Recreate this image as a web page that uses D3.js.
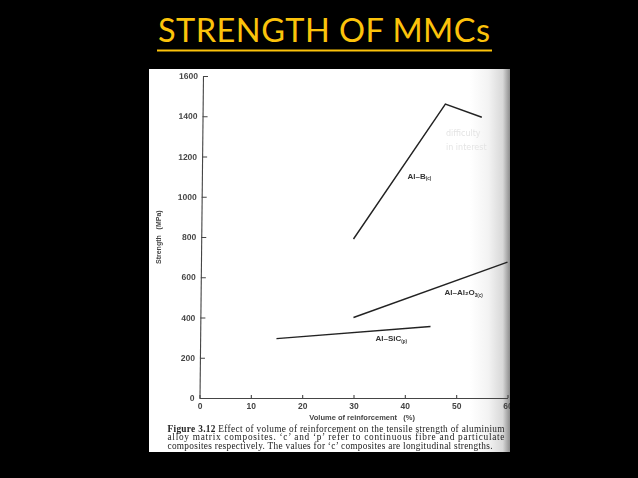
<!DOCTYPE html>
<html>
<head>
<meta charset="utf-8">
<script src="https://cdn.jsdelivr.net/npm/d3@7"></script>
<style>
html, body { margin: 0; padding: 0; background: #000; }
svg { display: block; }
</style>
</head>
<body>
<div id="chart"></div>
<script>
var titleText = "STRENGTH OF MMCs";
var xTicks = [0, 10, 20, 30, 40, 50, 60];
var yTicks = [0, 200, 400, 600, 800, 1000, 1200, 1400, 1600];
var xLabel = "Volume of reinforcement   (%)";
var yLabel = "Strength   (MPa)";

var alBVolume = [30, 47.9, 55];
var alBStrength = [790, 1460, 1395];
var alOxideVolume = [30, 60];
var alOxideStrength = [400, 675];
var siCVolume = [15, 45];
var siCStrength = [295, 355];

var captionLines = [
  "alloy matrix composites. ‘c’ and ‘p’ refer to continuous fibre and particulate",
  "composites respectively. The values for ‘c’ composites are longitudinal strengths."
];

var width = 638, height = 478;
var paper = {x: 149, y: 69, w: 361, h: 383};

var svg = d3.select("#chart").append("svg")
  .attr("width", width)
  .attr("height", height);

var defs = svg.append("defs");
var shade = defs.append("linearGradient").attr("id", "shade");
shade.append("stop").attr("offset", "0%").attr("stop-color", "#fff");
shade.append("stop").attr("offset", "89%").attr("stop-color", "#fff");
shade.append("stop").attr("offset", "94%").attr("stop-color", "#f3f3f3");
shade.append("stop").attr("offset", "98%").attr("stop-color", "#d8d8d8");
shade.append("stop").attr("offset", "100%").attr("stop-color", "#8c8c8c");
defs.append("clipPath").attr("id", "page").append("rect")
  .attr("x", paper.x).attr("y", paper.y).attr("width", paper.w).attr("height", paper.h);
defs.append("filter").attr("id", "soft").append("feGaussianBlur").attr("stdDeviation", 0.3);

// title
svg.append("rect").attr("width", width).attr("height", height).attr("fill", "#000");
svg.append("text")
  .attr("x", 158).attr("y", 41.5)
  .attr("textLength", 332)
  .attr("lengthAdjust", "spacing")
  .style("font-family", "Lato, 'Open Sans', sans-serif")
  .style("font-size", "32.5px")
  .attr("fill", "#fcc30b")
  .text(titleText);
svg.append("rect")
  .attr("x", 157).attr("y", 49.5).attr("width", 335).attr("height", 2)
  .attr("fill", "#fcc30b");

// scanned page
svg.append("rect")
  .attr("x", paper.x).attr("y", paper.y).attr("width", paper.w).attr("height", paper.h)
  .attr("fill", "url(#shade)");

var page = svg.append("g").attr("clip-path", "url(#page)").append("g").attr("filter", "url(#soft)");

var x = d3.scaleLinear().domain([0, 60]).range([199.5, 507.5]);
var y = d3.scaleLinear().domain([0, 1600]).range([398, 76]);

var yAxis = d3.axisLeft(y).tickValues(yTicks).tickFormat(d3.format("d")).tickSize(-5).tickPadding(5).tickSizeOuter(0);
var xAxis = d3.axisBottom(x).tickValues(xTicks).tickSize(-3).tickPadding(4.5).tickSizeOuter(0);

// the y axis leans slightly to the right in the scan
page.append("g")
  .call(yAxis)
  .attr("transform", "translate(199.5,398) skewX(-0.62) translate(0,-398)");
page.append("g")
  .attr("transform", "translate(0,398)")
  .call(xAxis);

page.selectAll(".domain, .tick line").attr("stroke", "#444").attr("stroke-width", 1.1);
page.selectAll(".tick text")
  .attr("fill", "#444")
  .style("font-family", "'Liberation Sans', sans-serif")
  .style("font-size", "8.5px")
  .style("font-weight", "bold");

var line = d3.line()
  .x(function(d) { return x(d[0]); })
  .y(function(d) { return y(d[1]); });

[d3.zip(alBVolume, alBStrength), d3.zip(alOxideVolume, alOxideStrength), d3.zip(siCVolume, siCStrength)]
  .forEach(function(s) {
    page.append("path")
      .attr("d", line(s))
      .attr("fill", "none")
      .attr("stroke", "#222")
      .attr("stroke-width", 1.4);
  });

function label(g, px, py, main, sub) {
  var t = g.append("text")
    .attr("x", px).attr("y", py)
    .attr("fill", "#333")
    .style("font-family", "'Liberation Sans', sans-serif")
    .style("font-size", "8px")
    .style("font-weight", "bold");
  t.append("tspan").text(main);
  t.append("tspan").attr("dy", 1.5).style("font-size", "4.5px").text(sub);
}
label(page, 407.5, 178.5, "Al–B", "(c)");
label(page, 444.5, 295, "Al–Al₂O", "3(c)");
label(page, 375.5, 341, "Al–SiC", "(p)");

// axis titles
page.append("text")
  .attr("x", 415).attr("y", 419.5)
  .attr("text-anchor", "end")
  .attr("fill", "#444")
  .style("font-family", "'Liberation Sans', sans-serif")
  .style("font-size", "7.5px")
  .style("font-weight", "bold")
  .style("white-space", "pre")
  .text(xLabel);
page.append("text")
  .attr("transform", "translate(161,264) rotate(-90)")
  .attr("fill", "#444")
  .style("font-family", "'Liberation Sans', sans-serif")
  .style("font-size", "7px")
  .style("font-weight", "bold")
  .style("white-space", "pre")
  .text(yLabel);

// faint handwriting
page.selectAll(".hand").data(["difficulty", "in interest"]).enter().append("text")
  .attr("x", 446).attr("y", function(d, i) { return 136 + i * 14; })
  .attr("fill", "#e4e4e4")
  .style("font-family", "'DejaVu Sans', sans-serif")
  .style("font-size", "8px")
  .text(function(d) { return d; });

// caption
var capStyle = function(t) {
  t.attr("fill", "#222")
    .style("font-family", "'Liberation Serif', serif")
    .style("font-size", "9.3px");
};
var cap = page.append("text").attr("x", 167.5).attr("y", 431.5).call(capStyle)
  .attr("textLength", 337).attr("lengthAdjust", "spacing");
cap.append("tspan").style("font-weight", "bold").text("Figure 3.12");
cap.append("tspan").text("  Effect of volume of reinforcement on the tensile strength of aluminium");
page.selectAll(".cap").data(captionLines).enter().append("text")
  .attr("x", 167.5)
  .attr("y", function(d, i) { return 440 + i * 8.5; })
  .attr("textLength", function(d, i) { return i == 0 ? 337 : 325; })
  .attr("lengthAdjust", "spacing")
  .call(capStyle)
  .text(function(d) { return d; });
</script>
</body>
</html>
